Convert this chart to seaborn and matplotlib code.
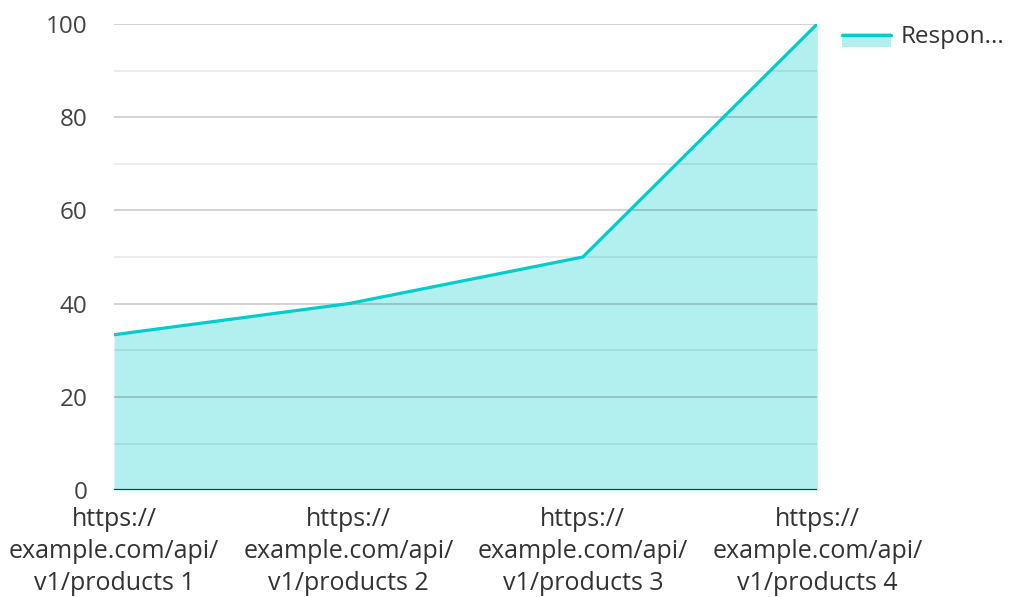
import matplotlib
matplotlib.use("Agg")
import matplotlib.pyplot as plt
import seaborn as sns
import pandas as pd
from matplotlib.lines import Line2D
from matplotlib.patches import Rectangle

categories = [
    "https://\nexample.com/api/\nv1/products 1",
    "https://\nexample.com/api/\nv1/products 2",
    "https://\nexample.com/api/\nv1/products 3",
    "https://\nexample.com/api/\nv1/products 4",
]
response = [33.33, 40, 50, 100]
series_name = "Respon..."

line_color = "#00cccc"
fill_color = "#b2efef"

sns.set_theme(style="white")
plt.rcParams["font.family"] = ["Open Sans", "DejaVu Sans"]

df = pd.DataFrame({"pos": range(len(categories)), "value": response})

fig = plt.figure(figsize=(10.09, 5.97), dpi=100)
ax = fig.add_axes([0.113, 0.179, 0.697, 0.781])

ax.fill_between(df["pos"], df["value"], 0, color=fill_color, linewidth=0, zorder=1)
sns.lineplot(data=df, x="pos", y="value", ax=ax, color=line_color, linewidth=2.3, zorder=3)

# grid: major every 20, minor every 10, drawn over the fill
for v in range(10, 101, 10):
    if v % 20 == 0:
        ax.axhline(v, color="black", alpha=0.2, linewidth=1.2, zorder=2)
    else:
        ax.axhline(v, color="black", alpha=0.09, linewidth=1.2, zorder=2)
ax.axhline(0, color="#333333", linewidth=1.6, zorder=4)

ax.set_xlim(0, len(categories) - 1)
ax.set_ylim(0, 100)
ax.set_yticks(range(0, 101, 20))
ax.set_xticks(range(len(categories)))
ax.set_xticklabels(categories, linespacing=1.38)
ax.tick_params(axis="y", length=0, pad=19, labelsize=17.5, labelcolor="#444444")
ax.tick_params(axis="x", length=0, pad=12, labelsize=18, labelcolor="#333333")
ax.set_xlabel("")
ax.set_ylabel("")
for s in ax.spines.values():
    s.set_visible(False)

# legend swatch in the top-right margin
W, H = fig.get_size_inches() * fig.dpi
def fx(px):
    return px / W
def fy(py):
    return 1 - py / H
fig.add_artist(Rectangle((fx(842), fy(47)), fx(891) - fx(842), fy(33) - fy(47),
                         transform=fig.transFigure, color=fill_color, linewidth=0))
fig.add_artist(Line2D([fx(842), fx(891)], [fy(34.5), fy(34.5)], transform=fig.transFigure,
                      color=line_color, linewidth=2.3))
fig.text(fx(901), fy(37), series_name, fontsize=17.5, color="#333333", va="center", ha="left")

fig.savefig("out.png", dpi=100)
